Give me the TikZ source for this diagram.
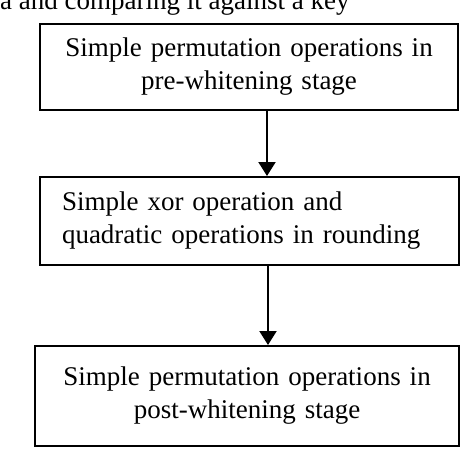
\documentclass[tikz,border=0pt]{standalone}
\usepackage{fontspec}
\setmainfont{Liberation Serif}
\usetikzlibrary{arrows.meta}
\begin{document}
\begin{tikzpicture}[x=1pt,y=-1pt,
  txt/.style={font=\fontsize{27}{33}\selectfont},
  box/.style={draw, line width=2pt, inner sep=0pt, txt},
  arr/.style={line width=2pt, -{Triangle[width=17pt,length=14pt]}}]
\useasboundingbox (0,0) rectangle (460,448);
\clip (0,0) rectangle (460,448);
\node[txt, anchor=base west, inner sep=0pt] (top) at (0,9) {a and comparing it against a key};
\node[box, minimum width=418pt, minimum height=86pt, text width=400pt, align=center] (b1) at (249,67)
  {Simple permutation operations in\\pre-whitening stage};
\node[box, minimum width=419pt, minimum height=88pt, text width=375pt, align=left] (b2) at (249.5,221)
  {Simple xor operation and\\quadratic operations in rounding};
\node[box, minimum width=424pt, minimum height=100pt, text width=400pt, align=center] (b3) at (247,396)
  {Simple permutation operations in\\post-whitening stage};
\coordinate (ax1) at (267,0);
\coordinate (ax2) at (268,0);
\draw[arr] (b1.south -| ax1) -- (b2.north -| ax1);
\draw[arr] (b2.south -| ax2) -- (b3.north -| ax2);
\end{tikzpicture}
\end{document}
